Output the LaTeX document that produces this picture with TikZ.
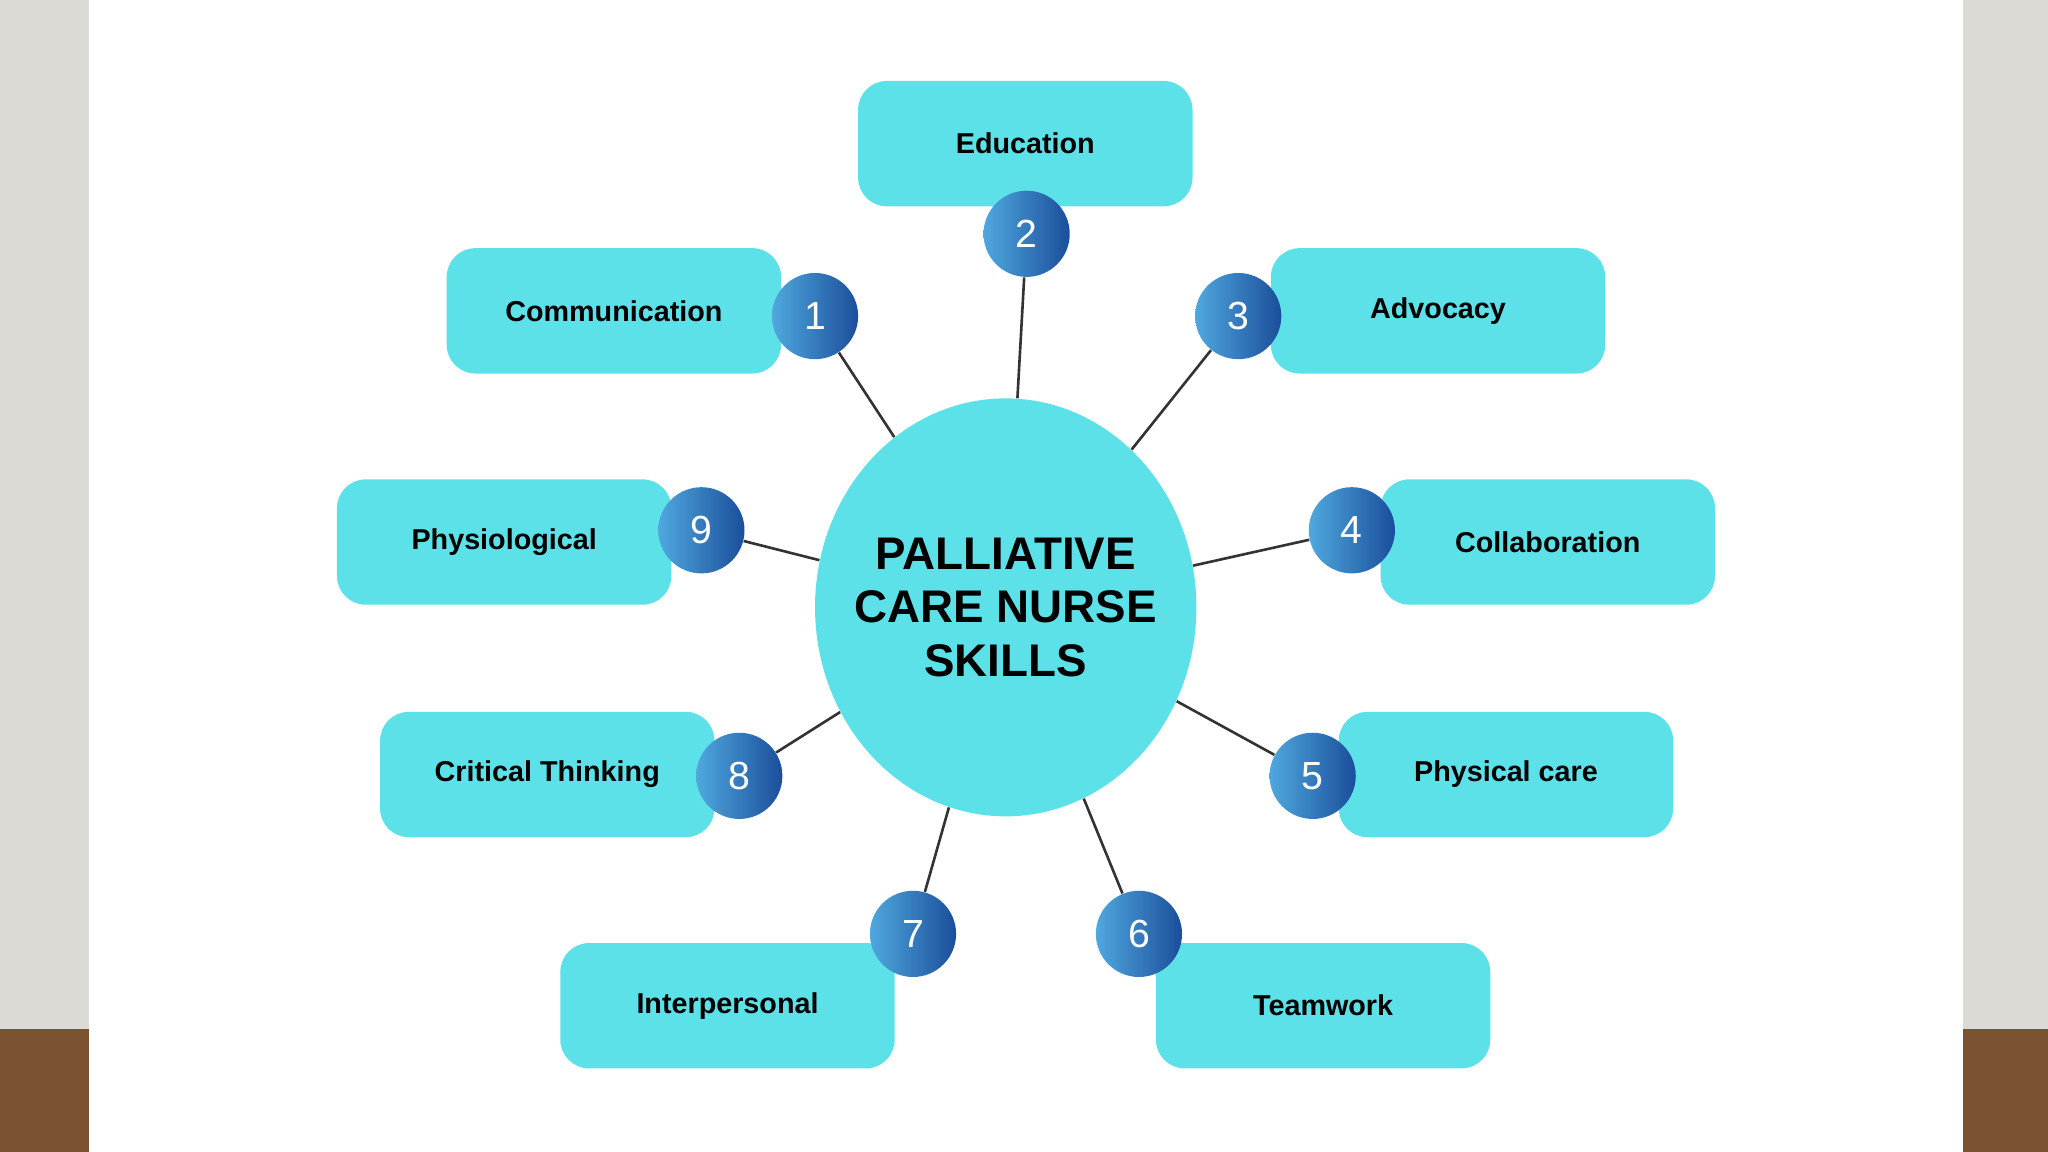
\documentclass[tikz,border=0pt]{standalone}
\usepackage{fontspec}
\setmainfont{Liberation Sans}
\usetikzlibrary{shapes.geometric}
\definecolor{cy}{HTML}{5DE1E8}
\definecolor{bl}{HTML}{4FA8DE}
\definecolor{bd}{HTML}{1B4E9B}
\definecolor{wall}{HTML}{DCDAD4}
\definecolor{wood}{HTML}{7A5230}
\begin{document}
\begin{tikzpicture}[x=0.5pt,y=-0.5pt,
  box/.style={fill=cy,rounded corners=11pt,minimum width=128pt,minimum height=48pt,font=\bfseries\fontsize{11}{13}\selectfont},
  num/.style={circle,minimum size=33pt,inner sep=0pt,left color=bl,right color=bd,text=white,font=\fontsize{15}{18}\selectfont},
  link/.style={draw=black!80,line width=1pt}]
\useasboundingbox (0,0) rectangle (1568,882);
\fill[wall] (0,0) rectangle (68,882);
\fill[wall] (1503,0) rectangle (1568,882);
\fill[wood] (0,788) rectangle (68,882);
\fill[wood] (1503,788) rectangle (1568,882);
\fill[white] (68,0) rectangle (1503,882);
\node[ellipse,fill=cy,minimum width=146pt,minimum height=160pt,inner sep=0pt] (c) at (770,465) {};
\node[align=center,font=\bfseries\fontsize{17.5}{20.5}\selectfont] (t) at (c.center) {PALLIATIVE\\CARE NURSE\\SKILLS};
\node[box] (b2) at (785,110) {Education};
\node[box] (b1) at (470,238) {Communication};
\node[box] (b3) at (1101,238) {Advocacy};
\node[box] (b9) at (386,415) {Physiological};
\node[box] (b4) at (1185,415) {Collaboration};
\node[box] (b8) at (419,593) {Critical Thinking};
\node[box] (b5) at (1153,593) {Physical care};
\node[box] (b7) at (557,770) {Interpersonal};
\node[box] (b6) at (1013,770) {Teamwork};
\node[num] (n2) at (786,179) {2};
\node[num] (n1) at (624,242) {1};
\node[num] (n3) at (948,242) {3};
\node[num] (n9) at (537,406) {9};
\node[num] (n4) at (1035,406) {4};
\node[num] (n8) at (566,594) {8};
\node[num] (n5) at (1005,594) {5};
\node[num] (n7) at (699,715) {7};
\node[num] (n6) at (872,715) {6};
\foreach \i in {1,...,9} \draw[link] (n\i) -- (c);
\end{tikzpicture}
\end{document}
